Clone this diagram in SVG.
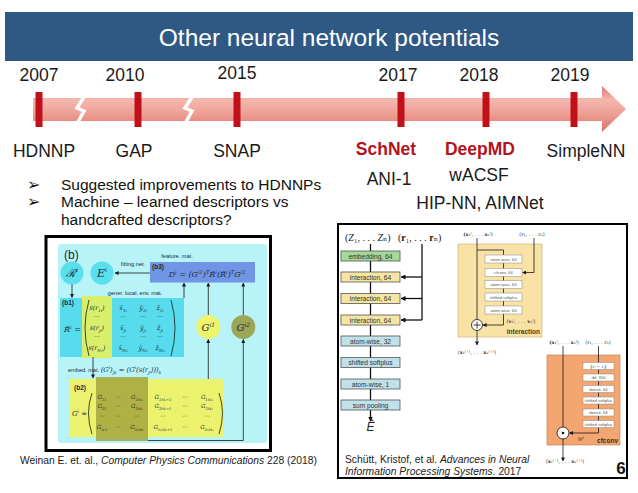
<svg xmlns="http://www.w3.org/2000/svg" width="638" height="493" viewBox="0 0 638 493">
<defs>
<linearGradient id="ag" x1="0" y1="0" x2="0" y2="1">
<stop offset="0" stop-color="#e2766b"/><stop offset="0.3" stop-color="#f4b8af"/><stop offset="0.6" stop-color="#ee9f95"/><stop offset="1" stop-color="#dc7368"/>
</linearGradient>
<marker id="ah" viewBox="0 0 10 10" refX="9" refY="5" markerUnits="userSpaceOnUse" markerWidth="4" markerHeight="4" orient="auto"><path d="M0,0 L10,5 L0,10 z" fill="#1a1a1a"/></marker>
<marker id="ah2" viewBox="0 0 10 10" refX="9" refY="5" markerUnits="userSpaceOnUse" markerWidth="5" markerHeight="5" orient="auto"><path d="M0,0 L10,5 L0,10 z" fill="#111"/></marker>
<style>
.s{font-family:'Liberation Sans',Arial,sans-serif}
.m{font-family:'DejaVu Serif','Liberation Serif',serif;font-style:italic;fill:#1d2a3a}
.yr{font-size:17.5px;fill:#1a1a1a;text-anchor:middle}
.hl{fill:#b3141c;font-weight:bold}
.bul{font-size:15.5px;fill:#111}
.cap{font-size:10.3px;fill:#222}
.ln{stroke:#1a1a1a;stroke-width:0.8;fill:none}
.lnb{stroke:#111;stroke-width:1.3;fill:none}
.tk{fill:#c2101a}
.bx{stroke:#555;stroke-width:0.8}
.bt{font-size:6.6px;fill:#333;text-anchor:middle}
.sb{stroke:#888;stroke-width:0.5;fill:#fff}
.st{font-size:4.2px;fill:#555;text-anchor:middle}
.tl{font-size:5px;fill:#333;text-anchor:middle;font-family:'DejaVu Serif','Liberation Serif',serif}
.mx{font-size:6.4px;text-anchor:middle}
.gx{font-size:5.6px;text-anchor:middle}
.zr{font-size:10px;fill:#222;font-family:'Liberation Serif','DejaVu Serif',serif}
</style>
</defs>
<rect width="638" height="493" fill="#fff"/>

<g id="title">
<rect x="5" y="12" width="628" height="49" fill="#2e5985"/>
<text class="s" x="329" y="46" font-size="24.5" fill="#fff" text-anchor="middle">Other neural network potentials</text>
</g>

<g id="timeline">
<path d="M33,98 L602,98 L602,86 L626,109 L602,132 L602,121 L33,121 Z" fill="url(#ag)"/>
<path d="M84,97 L77,108 L84,111 L78,122" stroke="#fff" stroke-width="3.5" fill="none"/>
<path d="M192,97 L185,108 L192,111 L186,122" stroke="#fff" stroke-width="3.5" fill="none"/>
<rect class="tk" x="35.5" y="92" width="7" height="35"/>
<rect class="tk" x="134.5" y="92" width="7" height="35"/>
<rect class="tk" x="233.5" y="92" width="7" height="35"/>
<rect class="tk" x="397.5" y="92" width="7" height="35"/>
<rect class="tk" x="482.5" y="92" width="7" height="35"/>
<rect class="tk" x="570.5" y="92" width="7" height="35"/>
<g class="s yr">
<text x="39" y="81">2007</text>
<text x="125" y="81">2010</text>
<text x="237" y="79">2015</text>
<text x="398" y="81">2017</text>
<text x="479" y="81">2018</text>
<text x="570" y="81">2019</text>
<text x="44" y="157">HDNNP</text>
<text x="134" y="157">GAP</text>
<text x="237" y="157">SNAP</text>
<text x="386" y="155" class="hl">SchNet</text>
<text x="480" y="155" class="hl">DeepMD</text>
<text x="586" y="157">SimpleNN</text>
<text x="389" y="185">ANI-1</text>
<text x="479" y="181">wACSF</text>
<text x="480" y="209">HIP-NN, AIMNet</text>
</g>
</g>

<g id="bullets" class="s bul">
<text x="27" y="190">➢</text>
<text x="61" y="190">Suggested improvements to HDNNPs</text>
<text x="27" y="207">➢</text>
<text x="61" y="207">Machine – learned descriptors vs</text>
<text x="61" y="225">handcrafted descriptors?</text>
</g>

<g id="fig-left">
<rect x="46" y="236.5" width="224.5" height="214" fill="#fff" stroke="#000" stroke-width="3"/>
<rect x="58" y="244" width="209" height="199" rx="3" fill="#b7f3f7"/>
<text class="s" x="64" y="259" font-size="12" fill="#1d2a3a">(b)</text>

<g id="node-R">
<circle cx="72" cy="273" r="11.5" fill="#5adfee"/>
<text class="m" x="72" y="277" font-size="11" text-anchor="middle">ℛ<tspan font-size="6" dy="-5">i</tspan></text>
</g>
<g id="node-E">
<circle cx="102" cy="273" r="11.5" fill="#5adfee"/>
<text class="m" x="102" y="277" font-size="11" text-anchor="middle">E<tspan font-size="6" dy="-5">i</tspan></text>
</g>
<g id="node-b3">
<rect x="150" y="262" width="105" height="20.5" fill="#7095e5"/>
<text class="s" x="152" y="269" font-size="6.5" font-weight="bold" fill="#1d2a3a">(b3)</text>
<text class="m" x="207" y="277" font-size="8" text-anchor="middle">D<tspan font-size="5" dy="-3.5">i</tspan><tspan dy="3.5"> = (G</tspan><tspan font-size="5" dy="-3.5">i1</tspan><tspan dy="3.5">)</tspan><tspan font-size="5" dy="-3.5">T</tspan><tspan dy="3.5">R̃</tspan><tspan font-size="5" dy="-3.5">i</tspan><tspan dy="3.5">(R̃</tspan><tspan font-size="5" dy="-3.5">i</tspan><tspan dy="3.5">)</tspan><tspan font-size="5" dy="-3.5">T</tspan><tspan dy="3.5">G</tspan><tspan font-size="5" dy="-3.5">i2</tspan></text>
</g>
<g id="node-b1">
<rect x="60" y="298" width="124" height="59" fill="#57dced"/>
<rect x="82" y="296" width="30" height="62" fill="#d8ef6b"/>
<text class="s" x="62" y="305" font-size="6.5" font-weight="bold" fill="#1d2a3a">(b1)</text>
<text class="m" x="64" y="332" font-size="8">R̃<tspan font-size="5" dy="-3.5">i</tspan><tspan dy="3.5"> =</tspan></text>
<path d="M89,300 Q81,328 89,356" class="ln"/>
<path d="M171,300 Q179,328 171,356" class="ln"/>
<g class="m mx">
<text x="97" y="310">s(r<tspan font-size="4" dy="1.5">1i</tspan><tspan dy="-1.5">)</tspan></text>
<text x="123" y="310">x̂<tspan font-size="4" dy="1.5">1i</tspan></text>
<text x="143" y="310">ŷ<tspan font-size="4" dy="1.5">1i</tspan></text>
<text x="160" y="310">ẑ<tspan font-size="4" dy="1.5">1i</tspan></text>
<text x="97" y="319">···</text><text x="123" y="319">···</text><text x="143" y="319">···</text><text x="160" y="319">···</text>
<text x="97" y="330">s(r<tspan font-size="4" dy="1.5">ji</tspan><tspan dy="-1.5">)</tspan></text>
<text x="123" y="330">x̂<tspan font-size="4" dy="1.5">ji</tspan></text>
<text x="143" y="330">ŷ<tspan font-size="4" dy="1.5">ji</tspan></text>
<text x="160" y="330">ẑ<tspan font-size="4" dy="1.5">ji</tspan></text>
<text x="97" y="339">···</text><text x="123" y="339">···</text><text x="143" y="339">···</text><text x="160" y="339">···</text>
<text x="97" y="350">s(r<tspan font-size="4" dy="1.5">Nᵢi</tspan><tspan dy="-1.5">)</tspan></text>
<text x="123" y="350">x̂<tspan font-size="4" dy="1.5">Nᵢi</tspan></text>
<text x="143" y="350">ŷ<tspan font-size="4" dy="1.5">Nᵢi</tspan></text>
<text x="160" y="350">ẑ<tspan font-size="4" dy="1.5">Nᵢi</tspan></text>
</g>
</g>
<g id="node-G1">
<circle cx="208.3" cy="327" r="12" fill="#eef46c"/>
<text class="m" x="208.3" y="331" font-size="10" text-anchor="middle">G<tspan font-size="6" dy="-4">i1</tspan></text>
</g>
<g id="node-G2">
<circle cx="243.3" cy="327" r="12" fill="#9ba656"/>
<text class="m" x="243.3" y="331" font-size="10" text-anchor="middle">G<tspan font-size="6" dy="-4">i2</tspan></text>
</g>
<g id="node-b2">
<rect x="70" y="379" width="153" height="58" fill="#ebf36e"/>
<rect x="96" y="377" width="52" height="64" fill="#a4a43d" fill-opacity="0.85"/>
<text class="s" x="74" y="390" font-size="6.5" font-weight="bold" fill="#1d2a3a">(b2)</text>
<text class="m" x="72" y="416" font-size="7">G<tspan font-size="4.5" dy="-3">i</tspan><tspan dy="3"> =</tspan></text>
<path d="M92,393 Q85,413 92,434" class="ln"/>
<path d="M219,393 Q226,413 219,434" class="ln"/>
<g class="m gx">
<text x="102" y="399">G<tspan font-size="3.6" dy="1.5">11</tspan></text>
<text x="118" y="399">···</text>
<text x="137" y="399">G<tspan font-size="3.6" dy="1.5">1M₁</tspan></text>
<text x="163" y="399">G<tspan font-size="3.6" dy="1.5">1M₁+1</tspan></text>
<text x="185" y="399">···</text>
<text x="207" y="399">G<tspan font-size="3.6" dy="1.5">1M₂</tspan></text>
<text x="102" y="408">G<tspan font-size="3.6" dy="1.5">21</tspan></text>
<text x="118" y="408">···</text>
<text x="137" y="408">G<tspan font-size="3.6" dy="1.5">2M₁</tspan></text>
<text x="163" y="408">G<tspan font-size="3.6" dy="1.5">2M₁+1</tspan></text>
<text x="185" y="408">···</text>
<text x="207" y="408">G<tspan font-size="3.6" dy="1.5">2M₂</tspan></text>
<text x="102" y="418">···</text><text x="118" y="418">···</text><text x="137" y="418">···</text><text x="163" y="418">···</text><text x="185" y="418">···</text><text x="207" y="418">···</text>
<text x="102" y="429">G<tspan font-size="3.6" dy="1.5">Nᵢ1</tspan></text>
<text x="118" y="429">···</text>
<text x="137" y="429">G<tspan font-size="3.6" dy="1.5">NᵢM₁</tspan></text>
<text x="163" y="429">G<tspan font-size="3.6" dy="1.5">NᵢM₁+1</tspan></text>
<text x="185" y="429">···</text>
<text x="207" y="429">G<tspan font-size="3.6" dy="1.5">NᵢM₂</tspan></text>
</g>
</g>
<g id="left-connectors">
<line class="ln" x1="150" y1="273" x2="115" y2="273" marker-end="url(#ah)"/>
<line class="ln" x1="72" y1="284.5" x2="72" y2="297.5" marker-end="url(#ah)"/>
<line class="ln" x1="184" y1="298" x2="184" y2="283" marker-end="url(#ah)"/>
<line class="ln" x1="208.3" y1="315" x2="208.3" y2="283" marker-end="url(#ah)"/>
<line class="ln" x1="243.3" y1="315" x2="243.3" y2="283" marker-end="url(#ah)"/>
<line class="ln" x1="208.3" y1="379" x2="208.3" y2="339.5" marker-end="url(#ah)"/>
<polyline class="ln" points="148,440.5 243.3,440.5 243.3,339.5" marker-end="url(#ah)"/>
<line class="ln" x1="93" y1="357" x2="93" y2="378" marker-end="url(#ah)"/>
</g>
<g class="s" font-size="5.6" fill="#1d2a3a">
<text x="177" y="258" text-anchor="middle">feature. mat.</text>
<text x="133" y="266" text-anchor="middle">fitting net.</text>
<text x="135" y="295" text-anchor="middle">gener. local. env. mat.</text>
<text x="68" y="372">embed. mat. <tspan class="m" font-size="6.8">(G<tspan font-size="4.2" dy="-3">i</tspan><tspan dy="3">)</tspan><tspan font-size="4.2" dy="1.5">jk</tspan><tspan dy="-1.5"> = (G</tspan><tspan font-size="4.2" dy="-3">i</tspan><tspan dy="3">(s(r</tspan><tspan font-size="4.2" dy="1.5">ji</tspan><tspan dy="-1.5">)))</tspan><tspan font-size="4.2" dy="1.5">k</tspan></tspan></text>
</g>
</g>
<text class="s cap" x="20" y="464">Weinan E. et. al., <tspan font-style="italic">Computer Physics Communications</tspan> 228 (2018)</text>

<g id="fig-right">
<rect x="338" y="224" width="289" height="254" fill="#fff" stroke="#000" stroke-width="2"/>
<text class="zr" x="345" y="241">(<tspan font-style="italic">Z</tspan>₁, . . . <tspan font-style="italic">Z</tspan>ₙ)</text>
<text class="zr" x="398" y="241">(<tspan font-weight="bold">r</tspan>₁, . . . <tspan font-weight="bold">r</tspan>ₙ)</text>

<g id="schnet-connectors">
<line class="lnb" x1="370.5" y1="244" x2="370.5" y2="251"/>
<line class="lnb" x1="370.5" y1="261" x2="370.5" y2="400"/>
<line class="lnb" x1="370.5" y1="410" x2="370.5" y2="421" marker-end="url(#ah2)"/>
<line class="lnb" x1="422" y1="244" x2="422" y2="320"/>
<line class="lnb" x1="422" y1="277" x2="401" y2="277" marker-end="url(#ah2)"/>
<line class="lnb" x1="422" y1="298.5" x2="401" y2="298.5" marker-end="url(#ah2)"/>
<line class="lnb" x1="422" y1="320" x2="401" y2="320" marker-end="url(#ah2)"/>
</g>
<g id="n-embedding"><rect class="bx" x="341" y="251" width="59" height="10" fill="#a6d79b"/><text class="s bt" x="370.5" y="258.5">embedding, 64</text></g>
<g id="n-int1"><rect class="bx" x="341" y="272" width="59" height="10" fill="#f5e4a2"/><text class="s bt" x="370.5" y="279.5" font-size="7.4">interaction, 64</text></g>
<g id="n-int2"><rect class="bx" x="341" y="293.5" width="59" height="10" fill="#f5e4a2"/><text class="s bt" x="370.5" y="301" font-size="7.4">interaction, 64</text></g>
<g id="n-int3"><rect class="bx" x="341" y="315" width="59" height="10" fill="#f5e4a2"/><text class="s bt" x="370.5" y="322.5" font-size="7.4">interaction, 64</text></g>
<g id="n-aw32"><rect class="bx" x="341" y="336" width="59" height="10" fill="#c0e0ea"/><text class="s bt" x="370.5" y="343.5" font-size="7.4">atom-wise, 32</text></g>
<g id="n-ssp"><rect class="bx" x="341" y="357.5" width="59" height="10" fill="#c0e0ea"/><text class="s bt" x="370.5" y="365">shifted softplus</text></g>
<g id="n-aw1"><rect class="bx" x="341" y="379" width="59" height="10" fill="#c0e0ea"/><text class="s bt" x="370.5" y="386.5" font-size="7.4">atom-wise, 1</text></g>
<g id="n-sum"><rect class="bx" x="341" y="400" width="59" height="10" fill="#c0e0ea"/><text class="s bt" x="370.5" y="407.5">sum pooling</text></g>
<text class="s" x="370.5" y="431" font-size="12" font-style="italic" fill="#222" text-anchor="middle">Ê</text>

<g id="interaction-block">
<rect x="458" y="244" width="84" height="93" fill="#f9e2a6" stroke="#c9ab6a" stroke-width="0.6"/>
<text class="tl" x="478" y="236"><tspan font-weight="bold">(x</tspan>₁ˡ, . . . <tspan font-weight="bold">x</tspan>ₙˡ)</text>
<text class="tl" x="532" y="236">(r₁, . . . rₙ)</text>
<line class="ln" x1="477" y1="238" x2="477" y2="319.5"/>
<line class="ln" x1="477" y1="330.5" x2="477" y2="345" marker-end="url(#ah)"/>
<polyline class="ln" points="477,250 503.5,250 503.5,255"/>
<line class="ln" x1="503.5" y1="255" x2="503.5" y2="314"/>
<polyline class="ln" points="534,238 534,272.5 522.5,272.5" marker-end="url(#ah)"/>
<polyline class="ln" points="503.5,314 503.5,325 483,325" marker-end="url(#ah)"/>
<g id="i-aw1"><rect class="sb" x="485" y="255" width="37" height="8"/><text class="s st" x="503.5" y="260.5">atom-wise, 64</text></g>
<g id="i-cf"><rect class="sb" x="485" y="268.5" width="37" height="8" fill="#f2b08c"/><text class="s st" x="503.5" y="274">cfconv, 64</text></g>
<g id="i-aw2"><rect class="sb" x="485" y="280.5" width="37" height="8"/><text class="s st" x="503.5" y="286">atom-wise, 64</text></g>
<g id="i-ssp"><rect class="sb" x="485" y="293" width="37" height="8"/><text class="s st" x="503.5" y="298.5">shifted softplus</text></g>
<g id="i-aw3"><rect class="sb" x="485" y="306" width="37" height="8"/><text class="s st" x="503.5" y="311.5">atom-wise, 64</text></g>
<g id="i-plus"><circle cx="477" cy="325" r="5.5" fill="#fff" stroke="#111" stroke-width="0.8"/><path d="M473.5,325 H480.5 M477,321.5 V328.5" stroke="#111" stroke-width="0.8"/></g>
<text class="tl" x="521" y="323">(<tspan font-weight="bold">v</tspan>₁ˡ, . . . <tspan font-weight="bold">v</tspan>ₙˡ)</text>
<text class="s" x="540" y="334" font-size="6.5" font-weight="bold" fill="#4a3a18" text-anchor="end">interaction</text>
<text class="tl" x="477" y="354">(<tspan font-weight="bold">x</tspan>₁ˡ⁺¹, . . . <tspan font-weight="bold">x</tspan>ₙˡ⁺¹)</text>
</g>

<g id="cfconv-block">
<rect x="547" y="355" width="73" height="90" fill="#f4a671" stroke="#b97a50" stroke-width="0.6"/>
<text class="tl" x="564" y="344"><tspan font-weight="bold">(x</tspan>₁ˡ, . . . <tspan font-weight="bold">x</tspan>ₙˡ)</text>
<text class="tl" x="598" y="344">(r₁, . . . rₙ)</text>
<line class="ln" x1="563" y1="346" x2="563" y2="427"/>
<line class="ln" x1="563" y1="439" x2="563" y2="461" marker-end="url(#ah)"/>
<line class="ln" x1="598.5" y1="346" x2="598.5" y2="427"/>
<polyline class="ln" points="598.5,427 598.5,433 569.5,433" marker-end="url(#ah)"/>
<g id="c-dist"><rect class="sb" x="583" y="362.5" width="31" height="7"/><text class="st" x="598.5" y="367.6" font-family="'DejaVu Serif',serif">‖rᵢ − rⱼ‖</text></g>
<g id="c-rbf"><rect class="sb" x="583" y="374" width="31" height="7"/><text class="s st" x="598.5" y="379.1">rbf, 300</text></g>
<g id="c-d1"><rect class="sb" x="583" y="385.5" width="31" height="7"/><text class="s st" x="598.5" y="390.6">dense, 64</text></g>
<g id="c-s1"><rect class="sb" x="583" y="397" width="31" height="7"/><text class="s st" x="598.5" y="402.1" font-size="3.6">shifted softplus</text></g>
<g id="c-d2"><rect class="sb" x="583" y="409" width="31" height="7"/><text class="s st" x="598.5" y="414.1">dense, 64</text></g>
<g id="c-s2"><rect class="sb" x="583" y="420.5" width="31" height="7"/><text class="s st" x="598.5" y="425.6" font-size="3.6">shifted softplus</text></g>
<g id="c-mul"><circle cx="563" cy="433" r="6" fill="#fff" stroke="#111" stroke-width="0.8"/><circle cx="563" cy="433" r="1.3" fill="#111"/></g>
<text class="tl" x="581" y="441" font-style="italic">W<tspan font-size="3.5" dy="-2">l</tspan></text>
<text class="s" x="618" y="443" font-size="6.5" font-weight="bold" fill="#4a2a10" text-anchor="end">cfconv</text>
<text class="tl" x="565" y="463">(<tspan font-weight="bold">x</tspan>₁ˡ⁺¹, . . . <tspan font-weight="bold">x</tspan>ₙˡ⁺¹)</text>
</g>

<text class="s cap" x="345" y="463" font-size="10.8">Schütt, Kristof, et al. <tspan font-style="italic">Advances in Neural</tspan></text>
<text class="s cap" x="345" y="475" font-size="10.8"><tspan font-style="italic">Information Processing Systems</tspan>. 2017</text>
<text class="s" x="621" y="474" font-size="17" font-weight="bold" fill="#111" text-anchor="middle">6</text>
</g>
</svg>
